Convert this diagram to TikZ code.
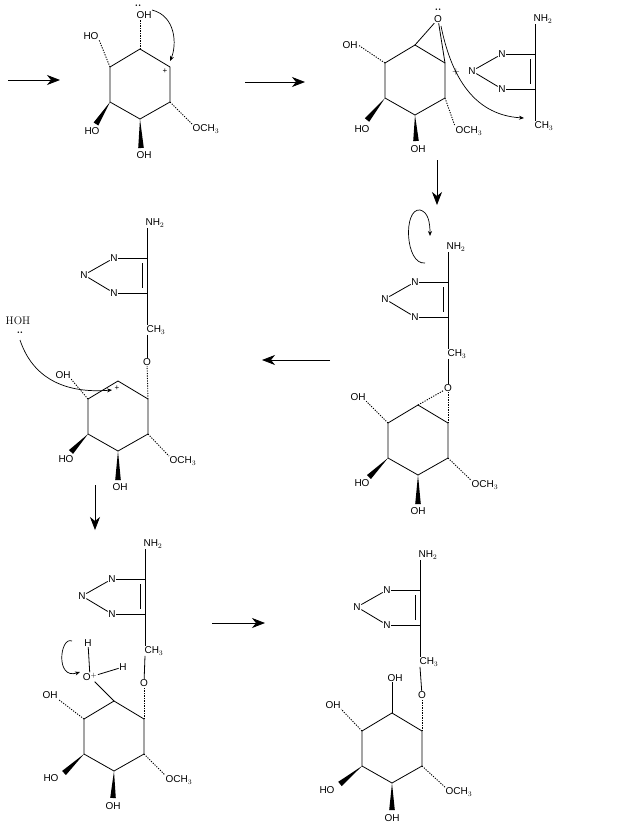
\documentclass[tikz,border=0pt]{standalone}
\usepackage{fontspec}
\setsansfont{Liberation Sans}
\usetikzlibrary{arrows.meta,calc}
\tikzset{
 lbl/.style={font=\sffamily\fontsize{10}{11}\selectfont,inner sep=0.5pt},
 plus/.style={font=\sffamily\fontsize{8}{8}\selectfont,inner sep=0pt},
 dots/.style={font=\bfseries\fontsize{10}{10}\selectfont,inner sep=0pt},
 bond/.style={line width=0.8pt},
 hash/.style={line width=0.9pt,dash pattern=on 1.2pt off 1.3pt},
 rxn/.style={line width=0.8pt,-{Stealth[length=13pt,width=10pt,inset=4pt]}},
 curly/.style={line width=0.7pt,-{Stealth[length=5pt,width=4pt]}}
}
\newcommand\hexring[3]{%
 \coordinate (#3t) at (#1,#2-35);
 \coordinate (#3ur) at (#1+30,#2-17);
 \coordinate (#3lr) at (#1+30,#2+18);
 \coordinate (#3b) at (#1,#2+35);
 \coordinate (#3ll) at (#1-30,#2+18);
 \coordinate (#3ul) at (#1-30,#2-17);
}
\newcommand\drawring[1]{\draw[bond] (#1t)--(#1ur)--(#1lr)--(#1b)--(#1ll)--(#1ul)--cycle;}
\newcommand\wdg[2]{\fill (#1) -- ($(#2)!2.8pt!90:(#1)$) -- ($(#2)!2.8pt!-90:(#1)$) -- cycle;}
\newcommand\triaz[3]{%
 \coordinate (#3ct) at (#1,#2);
 \coordinate (#3cb) at (#1,#2+35);
 \node[lbl] (#3nt) at (#1-33,#2) {N};
 \node[lbl] (#3nl) at (#1-63,#2+17) {N};
 \node[lbl] (#3nb) at (#1-33,#2+35) {N};
 \node[lbl] (#3nh) at (#1+8,#2-35) {NH$_2$};
 \node[lbl] (#3me) at (#1+9,#2+72) {CH$_3$};
 \draw[bond] (#3nt)--(#3ct)--(#3cb)--(#3nb);
 \draw[bond] (#3nt)--(#3nl)--(#3nb);
 \draw[bond] ($(#3ct)+(-5,5)$)--($(#3cb)+(-5,-5)$);
 \draw[bond] (#3ct)--(#3nh.south -| #3ct);
 \draw[bond] (#3cb)--(#3me.north -| #3cb);
}
\begin{document}
\begin{tikzpicture}[x=1pt,y=-1pt]
\useasboundingbox (0,0) rectangle (638,825);
% reaction arrows
\coordinate (a1s) at (8,80); \coordinate (a1e) at (60,80);
\draw[rxn] (a1s)--(a1e);
\coordinate (a2s) at (245,82); \coordinate (a2e) at (305,82);
\draw[rxn] (a2s)--(a2e);
\coordinate (a3s) at (437,160); \coordinate (a3e) at (437,205);
\draw[rxn] (a3s)--(a3e);
\coordinate (a4s) at (330,360); \coordinate (a4e) at (262,360);
\draw[rxn] (a4s)--(a4e);
\coordinate (a5s) at (95,485); \coordinate (a5e) at (95,530);
\draw[rxn] (a5s)--(a5e);
\coordinate (a6s) at (212,623); \coordinate (a6e) at (265,623);
\draw[rxn] (a6s)--(a6e);

% ---- structure 1
\hexring{140}{84}{A}\drawring{A}
\node[lbl] (A1) at (144,15) {OH};
\node[dots] (A1d) at (138,6) {..};
\node[lbl] (A2) at (91,36) {HO};
\node[lbl] (A3) at (92,131) {HO};
\node[lbl] (A4) at (144,155) {OH};
\node[lbl] (A5) at (206,129) {OCH$_3$};
\node[plus] (Ap) at (165,71) {+};
\draw[hash] (At)--(A1.south -| At);
\draw[hash] (Aul)--(A2.south east);
\coordinate (Aw1) at (96,124); \wdg{All}{Aw1}
\coordinate (Aw2) at (141,148); \wdg{Ab}{Aw2}
\draw[hash] (Alr)--(A5.north west);
\coordinate (Ac1) at (152,10); \coordinate (Ac2) at (170,61);
\draw[curly] (Ac1) .. controls (176,16) and (177,45) .. (Ac2);

% ---- structure 2
\hexring{415}{80}{B}\drawring{B}
\node[lbl] (B0) at (438,19) {O};
\node[dots] (B0d) at (438,10) {..};
\draw[bond] (Bt)--(B0)--(Bur);
\node[lbl] (B1) at (350,45) {OH};
\node[lbl] (B2) at (362,129) {HO};
\node[lbl] (B3) at (418,149) {OH};
\node[lbl] (B4) at (469,131) {OCH$_3$};
\node[plus,font=\fontsize{10}{10}\selectfont] (Bp) at (456,72) {+};
\draw[hash] (Bul)--(B1.east);
\coordinate (Bw1) at (367,120); \wdg{Bll}{Bw1}
\coordinate (Bw2) at (416,141); \wdg{Bb}{Bw2}
\draw[hash] (Blr)--(B4.north west);
\triaz{535}{54}{Bz}
\coordinate (Bc1) at (441,26); \coordinate (Bc2) at (524,118);
\draw[curly] (Bc1) .. controls (450,70) and (470,115) .. (Bc2);

% ---- structure 3
\hexring{418}{440}{C}\drawring{C}
\triaz{448}{282}{Cz}
\node[lbl] (C0) at (448,388) {O};
\draw[bond] (Czme.south -| Czcb)--(C0);
\draw[hash] (Ct)--(C0); \draw[hash] (Cur)--(C0);
\node[lbl] (C1) at (358,397) {OH};
\node[lbl] (C2) at (362,483) {HO};
\node[lbl] (C3) at (418,511) {OH};
\node[lbl] (C4) at (485,485) {OCH$_3$};
\draw[hash] (Cul)--(C1.south east);
\coordinate (Cw1) at (369,477); \wdg{Cll}{Cw1}
\coordinate (Cw2) at (418,504); \wdg{Cb}{Cw2}
\draw[hash] (Clr)--(C4.north west);
\coordinate (Cc1) at (425,263); \coordinate (Cc2) at (430,236);
\draw[curly] (Cc1) .. controls (405,265) and (403,208) .. (420,210) .. controls (428,212) and (430,222) .. (Cc2);

% ---- structure 4
\hexring{118}{416}{D}\drawring{D}
\triaz{147}{258}{Dz}
\node[lbl] (D0) at (147,362) {O};
\draw[bond] (Dzme.south -| Dzcb)--(D0);
\draw[hash] (Dur)--(D0);
\node[lbl] (D1) at (63,375) {OH};
\node[lbl] (D2) at (66,459) {HO};
\node[lbl] (D3) at (120,487) {OH};
\node[lbl] (D4) at (183,461) {OCH$_3$};
\node[plus] (Dp) at (117,388) {+};
\node[inner sep=0.5pt,font=\fontsize{11}{12}\selectfont] (Dw) at (18,321) {HOH};
\node[dots] (Dwd) at (20,333) {..};
\draw[hash] (Dul)--(D1.south east);
\coordinate (Dw1) at (71,452); \wdg{Dll}{Dw1}
\coordinate (Dw2) at (118,480); \wdg{Db}{Dw2}
\draw[hash] (Dlr)--(D4.north west);
\coordinate (Dc1) at (20,340); \coordinate (Dc2) at (112,390);
\draw[curly] (Dc1) .. controls (35,385) and (75,393) .. (Dc2);

% ---- structure 5
\hexring{114}{736}{E}\drawring{E}
\triaz{145}{579}{Ez}
\node[lbl] (E0) at (144,683) {O};
\draw[bond] (Ezme.south -| Ezcb)--(E0);
\draw[hash] (Eur)--(E0);
\node[lbl] (Eo) at (90,677) {O$^{+}$};
\node[lbl] (Eh1) at (88,643) {H};
\node[lbl] (Eh2) at (123,667) {H};
\draw[bond] (Et)--(Eo); \draw[bond] (Eo)--(Eh1); \draw[bond] (Eo)--(Eh2);
\node[lbl] (E1) at (50,695) {OH};
\node[lbl] (E2) at (51,778) {HO};
\node[lbl] (E3) at (113,806) {OH};
\node[lbl] (E4) at (179,780) {OCH$_3$};
\draw[hash] (Eul)--(E1.south east);
\coordinate (Ew1) at (64,773); \wdg{Ell}{Ew1}
\coordinate (Ew2) at (113,798); \wdg{Eb}{Ew2}
\draw[hash] (Elr)--(E4.north west);
\coordinate (Ec1) at (72,641); \coordinate (Ec2) at (80,672);
\draw[curly] (Ec1) .. controls (60,636) and (55,680) .. (Ec2);

% ---- structure 6
\hexring{392}{748}{F}\drawring{F}
\triaz{420}{590}{Fz}
\node[lbl] (F0) at (422,695) {O};
\draw[bond] (Fzme.south -| Fzcb)--(F0);
\draw[hash] (Fur)--(F0);
\node[lbl] (F5) at (395,678) {OH};
\draw[bond] (Ft)--(F5.south -| Ft);
\node[lbl] (F1) at (333,705) {OH};
\node[lbl] (F2) at (327,790) {HO};
\node[lbl] (F3) at (392,818) {OH};
\node[lbl] (F4) at (459,792) {OCH$_3$};
\draw[hash] (Ful)--(F1.south east);
\coordinate (Fw1) at (340,784); \wdg{Fll}{Fw1}
\coordinate (Fw2) at (392,810); \wdg{Fb}{Fw2}
\draw[hash] (Flr)--(F4.north west);
\end{tikzpicture}
\end{document}
